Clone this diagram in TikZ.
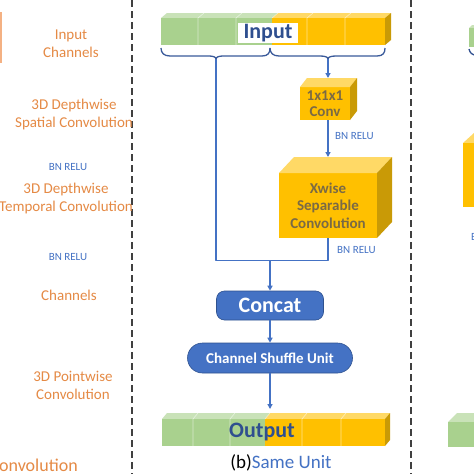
\documentclass[tikz,border=0pt]{standalone}
\usepackage{fontspec}
\setmainfont{Carlito}
\usetikzlibrary{arrows.meta,calc}
\definecolor{ggreen}{HTML}{A9D18E}
\definecolor{ggreentop}{HTML}{C9E2B8}
\definecolor{yell}{HTML}{FFC000}
\definecolor{yelltop}{HTML}{FFD966}
\definecolor{yellside}{HTML}{C99A06}
\definecolor{lineblue}{HTML}{4472C4}
\definecolor{darkblue}{HTML}{2F4F8F}
\definecolor{bracecol}{HTML}{3A5A9A}
\definecolor{orangetxt}{HTML}{E58A45}
\definecolor{boxtxt}{HTML}{7A6A45}
\definecolor{orangebar}{HTML}{F4B183}
\definecolor{dashcol}{HTML}{404040}
\definecolor{pillblue}{HTML}{4472C4}
\definecolor{pillborder}{HTML}{2F528F}
\newcommand\cubesides[5]{%
  \fill[#4] (#1.north west) -- ++(#2,#3) -- ($(#1.north east)+(#2,#3)$) -- (#1.north east) -- cycle;
  \fill[#5] (#1.north east) -- ++(#2,#3) -- ($(#1.south east)+(#2,#3)$) -- (#1.south east) -- cycle;}
\newcommand\barblock[9]{% x1 y1 x2 y2 dx dy front top side
  \fill[#8] (#1,#2) -- ({#1+#5},{#2+#6}) -- ({#3+#5},{#2+#6}) -- (#3,#2) -- cycle;
  \fill[#9] (#3,#2) -- ({#3+#5},{#2+#6}) -- ({#3+#5},{#4+#6}) -- (#3,#4) -- cycle;
  \fill[#7] (#1,#2) rectangle (#3,#4);}
\tikzset{
  ln/.style={draw=lineblue, line width=1.3pt, line join=round},
  arr/.style={ln, -{Triangle[length=5pt,width=5pt]}},
  bracestyle/.style={draw=bracecol, line width=1.3pt},
  cellline/.style={draw=white, opacity=0.55, line width=0.6pt},
  dashline/.style={draw=dashcol, line width=1.2pt, dash pattern=on 7pt off 4pt},
  lefttxt/.style={text=orangetxt, font=\fontsize{15}{18}\selectfont, align=center, inner sep=0},
  bnlabel/.style={text=lineblue, font=\fontsize{11}{13}\selectfont, inner sep=0},
  cubefront/.style={fill=yell, inner sep=0, outer sep=0, text=boxtxt, align=center},
  pill/.style={fill=pillblue, draw=pillborder, line width=0.6pt, text=white, inner sep=0}
}
\begin{document}
\begin{tikzpicture}[x=1pt,y=-1pt]
\useasboundingbox (0,0) rectangle (474,474);
\clip (0,0) rectangle (474,474);
\fill[white] (0,0) rectangle (474,474);

% dashed separators
\draw[dashline] (132,0) -- (132,474);
\draw[dashline] (411,0) -- (411,474);

% left edge fragment
\fill[orangebar] (0,12) rectangle (2,63);

% left column texts
\node[lefttxt] (lt1) at (71,44) {Input\\Channels};
\node[lefttxt] (lt2) at (74,114) {3D Depthwise\\Spatial Convolution};
\node[bnlabel] (lt3) at (68,167) {BN RELU};
\node[lefttxt] (lt4) at (66,198) {3D Depthwise\\Temporal Convolution};
\node[bnlabel] (lt5) at (68,257) {BN RELU};
\node[lefttxt] (lt6) at (69,295) {Channels};
\node[lefttxt] (lt7) at (73,385) {3D Pointwise\\Convolution};
\node[text=orangetxt, font=\fontsize{18}{20}\selectfont, anchor=base east, inner sep=0] (lt8) at (78,471) {Convolution};

% input bar
\barblock{161}{18}{272}{45}{6}{-5}{ggreen}{ggreentop}{ggreen}
\barblock{272}{18}{385}{45}{6}{-5}{yell}{yelltop}{yellside}
\foreach \xc in {198,236,307,345}{
  \draw[cellline] (\xc,45) -- (\xc,18) -- ++(6,-5);}
\draw[cellline] (272,18) -- ++(6,-5);
\node[fill=white, inner sep=0, minimum width=60, minimum height=20, text=darkblue,
      font=\fontsize{22}{24}\selectfont\bfseries] (inp) at (268,33) {Input};

% braces
\draw[bracestyle] (161,48) .. controls (161,53) and (164,56) .. (170,56) -- (209,56)
  .. controls (213,56) and (216,57) .. (216,59) .. controls (216,57) and (219,56) .. (223,56)
  -- (262,56) .. controls (268,56) and (270,53) .. (270,48);
\draw[bracestyle] (270,48) .. controls (270,53) and (273,56) .. (279,56) -- (320,56)
  .. controls (325,56) and (328,57) .. (328,59) .. controls (328,57) and (331,56) .. (336,56)
  -- (377,56) .. controls (383,56) and (385,53) .. (385,48);
\coordinate (bL) at (216,59);
\coordinate (bR) at (328,59);

% 1x1x1 conv
\node[cubefront, minimum width=50, minimum height=33,
      font=\fontsize{15}{16}\selectfont\bfseries] (conv) at (325,103.5) {1x1x1\\Conv};
\cubesides{conv}{7}{-9}{yelltop}{yellside}
\coordinate (convtop) at ($(conv.north)+(3,-9)$);

% xwise
\node[cubefront, minimum width=98, minimum height=65,
      font=\fontsize{15}{17.5}\selectfont\bfseries] (xw) at (328,205.5) {Xwise\\Separable\\Convolution};
\cubesides{xw}{15}{-16}{yelltop}{yellside}
\coordinate (xwtop) at ($(xw.north)+(0,-16)$);

\draw[arr] (bR) -- (convtop);
\draw[arr] (bR |- conv.south) -- (xwtop);
\node[bnlabel, anchor=west] (bn1) at (335,136) {BN RELU};
\node[bnlabel, anchor=west] (bn2) at (337,250) {BN RELU};

% join lines
\coordinate (join) at (270,260.5);
\draw[ln] (bL) |- (join);
\draw[ln] (xw.south) |- (join);

% concat & shuffle
\node[pill, rounded corners=8pt, minimum width=107, minimum height=29,
      font=\fontsize{22}{24}\selectfont\bfseries] (concat) at (270,305.5) {Concat};
\node[pill, rounded corners=15pt, minimum width=165, minimum height=30,
      font=\fontsize{15}{17}\selectfont\bfseries] (csu) at (270,358) {Channel Shuffle Unit};
\draw[arr] (join) -- (concat.north);
\draw[arr] (concat.south) -- (csu.north);
\coordinate (outtop) at (270,409);
\draw[arr] (csu.south) -- (outtop);

% output bar
\barblock{162}{419}{265}{446}{5}{-6}{ggreen}{ggreentop}{ggreen}
\barblock{265}{419}{385}{446}{5}{-6}{yell}{yelltop}{yellside}
\foreach \xc in {193,230,302,341}{
  \draw[cellline] (\xc,446) -- (\xc,419) -- ++(5,-6);}
\draw[cellline] (265,419) -- ++(5,-6);
\node[text=darkblue, inner sep=0, font=\fontsize{22}{24}\selectfont\bfseries] (outp) at (262,432) {Output};

% caption
\node[inner sep=0, font=\fontsize{19}{21}\selectfont] (cap) at (281,463) {(b)\textcolor{lineblue}{Same Unit}};

% right-edge fragments
\barblock{469}{28}{490}{47}{3}{-3}{ggreen}{ggreentop}{ggreen}
\draw[draw=darkblue, line width=1.3pt] (469,49) .. controls (470,53) and (472,55) .. (476,55);
\barblock{463}{143}{490}{207}{11}{-10}{yell}{yelltop}{yellside}
\node[bnlabel, anchor=west] (bn3) at (471,237) {BN RELU};
\barblock{448}{422}{490}{447}{9}{-9}{ggreen}{ggreentop}{ggreen}
\end{tikzpicture}
\end{document}
